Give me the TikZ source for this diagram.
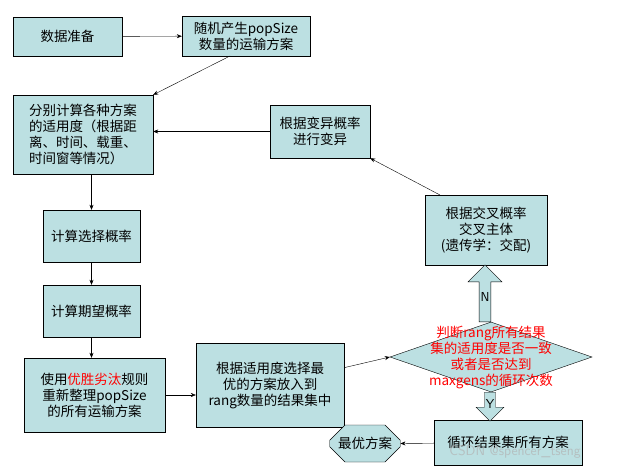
\documentclass[tikz,border=0pt]{standalone}
\usepackage{fontspec}
\newfontfamily\cjk{Noto Sans CJK SC}
\usetikzlibrary{shapes.geometric,shapes.arrows,shapes.misc,arrows.meta}
\definecolor{boxc}{HTML}{BCE0E2}
\tikzset{
  bx/.style={draw=black,fill=boxc,align=center,inner sep=1pt,font=\cjk\fontsize{13.5}{16}\selectfont},
  ar/.style={-{Stealth[length=5pt,width=4pt]},black},
}
\begin{document}
\begin{tikzpicture}[x=1pt,y=-1pt]
\useasboundingbox[fill=white] (0,0) rectangle (622,469);
\node[bx,minimum width=109,minimum height=39] (a) at (67.5,36.5) {数据准备};
\node[bx,minimum width=128,minimum height=40] (b) at (246,36) {随机产生popSize\\数量的运输方案};
\node[bx,minimum width=140,minimum height=79,align=left] (c) at (83,134.5) {分别计算各种方案\\的适用度（根据距\\离、时间、载重、\\时间窗等情况）};
\node[bx,minimum width=100,minimum height=53] (d) at (320,131.5) {根据变异概率\\进行变异};
\node[bx,minimum width=97,minimum height=52] (e) at (91.5,236) {计算选择概率};
\node[bx,minimum width=97,minimum height=52] (f) at (91.5,311) {计算期望概率};
\node[bx,minimum width=141,minimum height=74] (g) at (94.5,395) {使用\textcolor{red}{优胜劣汰}规则\\重新整理popSize\\的所有运输方案};
\node[bx,minimum width=148,minimum height=84] (h) at (270,385) {根据适用度选择最\\优的方案放入到\\rang数量的结果集中};
\node[bx,minimum width=122,minimum height=70] (i) at (486,230) {根据交叉概率\\交叉主体\\(遗传学：交配)};
\node[draw=black,fill=boxc,diamond,minimum width=202,minimum height=70,inner sep=0] (j) at (491,357) {};
\node[text=red,align=center,font=\cjk\fontsize{13.5}{16}\selectfont] (jt) at (491,357) {判断rang所有结果\\集的适用度是否一致\\或者是否达到\\maxgens的循环次数};
\node[bx,minimum width=148,minimum height=45] (k) at (508,442.5) {循环结果集所有方案};
\node[bx,chamfered rectangle,chamfered rectangle xsep=8pt,chamfered rectangle ysep=8pt,minimum width=70,minimum height=37,inner sep=1pt] (l) at (365,443.5) {最优方案};
\node[draw=black,fill=boxc,single arrow,shape border rotate=90,minimum height=57,minimum width=34,single arrow head extend=6pt,inner sep=3pt,anchor=tail] (n) at (485,322) {};
\node[font=\sffamily\fontsize{13}{14}\selectfont] at (485,297) {N};
\node[draw=black,fill=boxc,single arrow,shape border rotate=270,minimum height=29,minimum width=28,single arrow head extend=5pt,inner sep=3pt,anchor=tail] (y) at (490,392) {};
\node[font=\sffamily\fontsize{13}{14}\selectfont] at (490,404) {Y};
\node[text=gray!60,font=\sffamily\fontsize{14}{15}\selectfont,opacity=0.7] (w) at (515,452) {CSDN @spencer\_tseng};
\coordinate (b1) at (230,56);
\coordinate (i1) at (440,195);
\draw[ar] (a) -- (b);
\draw[ar] (b1) -- (c.north east);
\draw[ar] (d) -- (c.east|-d);
\draw[ar] (c.south-|e) -- (e);
\draw[ar] (e) -- (f);
\draw[ar] (f) -- (f|-g.north);
\draw[ar] (g.east) -- (h.west|-g.east);
\draw[ar] (h) -- (j.west);
\draw[ar] (i1) -- (d.south east);
\draw[ar] (k) -- (l.east);
\end{tikzpicture}
\end{document}
